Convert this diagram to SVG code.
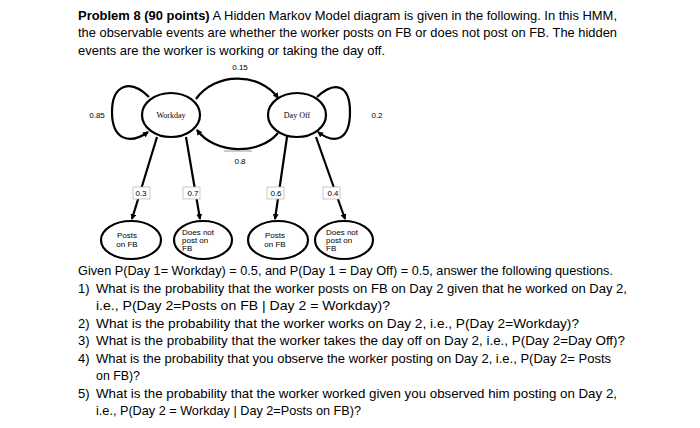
<svg xmlns="http://www.w3.org/2000/svg" width="700" height="428" viewBox="0 0 700 428">
<style>
.t{font-family:"Liberation Sans",Arial,sans-serif;font-size:13px;fill:#000}
.b{font-weight:bold}
.n{fill:#fff;stroke:#000;stroke-width:2.2}
.e{fill:none;stroke:#000;stroke-width:2.2;marker-end:url(#a)}
.l{font-family:"Liberation Sans",Arial,sans-serif;font-size:8px;fill:#000}
.s{font-family:"Liberation Serif",serif;font-size:8px;fill:#000}
.bx{fill:#fff;stroke:#bbb;stroke-width:0.8}
</style>
<defs><marker id="a" markerWidth="6" markerHeight="6" refX="5" refY="3" orient="auto" markerUnits="userSpaceOnUse"><path d="M0,0L6,3L0,6z" fill="#000"/></marker></defs>
<rect width="700" height="428" fill="#fff"/>
<text class="t" x="78" y="20" textLength="539" lengthAdjust="spacingAndGlyphs"><tspan class="b">Problem 8 (90 points)</tspan> A Hidden Markov Model diagram is given in the following. In this HMM,</text>
<text class="t" x="78" y="37" textLength="539" lengthAdjust="spacingAndGlyphs">the observable events are whether the worker posts on FB or does not post on FB. The hidden</text>
<text class="t" x="78" y="55" textLength="307" lengthAdjust="spacingAndGlyphs">events are the worker is working or taking the day off.</text>
<g id="connectors">
<path class="e" d="M149,97 C130,78 112,85 112,112 C112,140 130,145 148,132"/>
<path class="e" d="M196,99 C215,72 260,72 278,98"/>
<path class="e" d="M278,133 C260,155 215,155 197,130"/>
<path class="e" d="M317,97 C335,80 350,85 350,112 C350,140 335,145 318,132"/>
<path class="e" d="M157,137 L132,219"/>
<path class="e" d="M186,137 L200,219"/>
<path class="e" d="M287,137 L275,219"/>
<path class="e" d="M316,137 L345,219"/>
<line x1="224" y1="151" x2="252" y2="151" stroke="#999" stroke-width="1"/>
<text class="l" x="240" y="70" text-anchor="middle">0.15</text>
<text class="l" x="240" y="164" text-anchor="middle">0.8</text>
<text class="l" x="97" y="118" text-anchor="middle">0.85</text>
<text class="l" x="377" y="118" text-anchor="middle">0.2</text>
<rect class="bx" x="133" y="187" width="17" height="12"/><text class="l" x="141" y="196" text-anchor="middle">0.3</text>
<rect class="bx" x="183" y="187" width="17" height="12"/><text class="l" x="193" y="196" text-anchor="middle">0.7</text>
<rect class="bx" x="267" y="187" width="17" height="12"/><text class="l" x="276" y="196" text-anchor="middle">0.6</text>
<rect class="bx" x="323" y="187" width="17" height="12"/><text class="l" x="333" y="196" text-anchor="middle">0.4</text>
</g>
<g id="workday"><ellipse class="n" cx="171" cy="115" rx="29" ry="22"/><text class="s" x="171" y="118" text-anchor="middle">Workday</text></g>
<g id="dayoff"><ellipse class="n" cx="297" cy="115" rx="29" ry="22"/><text class="s" x="297" y="118" text-anchor="middle">Day Off</text></g>
<g id="posts1"><ellipse class="n" cx="131" cy="240" rx="30" ry="19"/><text class="l" x="127" y="238" text-anchor="middle">Posts</text><text class="l" x="127" y="247" text-anchor="middle">on FB</text></g>
<g id="notpost1"><ellipse class="n" cx="203" cy="240" rx="29" ry="19"/><text class="l" x="182" y="235" font-size="7">Does not</text><text class="l" x="182" y="243" font-size="7">post on</text><text class="l" x="182" y="251" font-size="7">FB</text></g>
<g id="posts2"><ellipse class="n" cx="278" cy="240" rx="30" ry="19"/><text class="l" x="275" y="238" text-anchor="middle">Posts</text><text class="l" x="275" y="247" text-anchor="middle">on FB</text></g>
<g id="notpost2"><ellipse class="n" cx="344" cy="240" rx="29" ry="19"/><text class="l" x="326" y="235" font-size="7">Does not</text><text class="l" x="326" y="243" font-size="7">post on</text><text class="l" x="326" y="251" font-size="7">FB</text></g>
<text class="t" x="78" y="275" textLength="535" lengthAdjust="spacingAndGlyphs">Given P(Day 1= Workday) = 0.5, and P(Day 1 = Day Off) = 0.5, answer the following questions.</text>
<text class="t" x="78" y="293">1)</text><text class="t" x="96" y="293" textLength="531" lengthAdjust="spacingAndGlyphs">What is the probability that the worker posts on FB on Day 2 given that he worked on Day 2,</text>
<text class="t" x="96" y="310" textLength="294" lengthAdjust="spacingAndGlyphs">i.e., P(Day 2=Posts on FB | Day 2 = Workday)?</text>
<text class="t" x="78" y="328">2)</text><text class="t" x="96" y="328" textLength="483" lengthAdjust="spacingAndGlyphs">What is the probability that the worker works on Day 2, i.e., P(Day 2=Workday)?</text>
<text class="t" x="78" y="345">3)</text><text class="t" x="96" y="345" textLength="529" lengthAdjust="spacingAndGlyphs">What is the probability that the worker takes the day off on Day 2, i.e., P(Day 2=Day Off)?</text>
<text class="t" x="78" y="363">4)</text><text class="t" x="96" y="363" textLength="515" lengthAdjust="spacingAndGlyphs">What is the probability that you observe the worker posting on Day 2, i.e., P(Day 2= Posts</text>
<text class="t" x="96" y="380" textLength="44" lengthAdjust="spacingAndGlyphs">on FB)?</text>
<text class="t" x="78" y="398">5)</text><text class="t" x="96" y="398" textLength="521" lengthAdjust="spacingAndGlyphs">What is the probability that the worker worked given you observed him posting on Day 2,</text>
<text class="t" x="96" y="415" textLength="265" lengthAdjust="spacingAndGlyphs">i.e., P(Day 2 = Workday | Day 2=Posts on FB)?</text>
</svg>
